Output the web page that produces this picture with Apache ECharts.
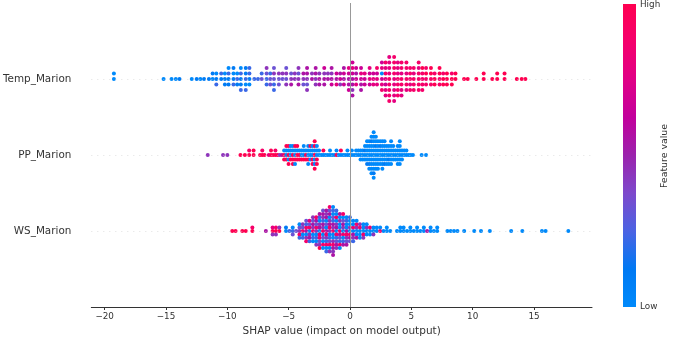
<!DOCTYPE html>
<html><head><meta charset="utf-8">
<script src="https://cdn.jsdelivr.net/npm/echarts@6/dist/echarts.min.js"></script>
<style>html,body{margin:0;padding:0;background:#fff}#c{width:680px;height:345px}</style>
</head><body><div id="c"></div>
<script>
// features, bottom to top (y positions 0,1,2)
const features = ['WS_Marion', 'PP_Marion', 'Temp_Marion'];
const xTicks = [-20, -15, -10, -5, 0, 5, 10, 15];
const xLabel = 'SHAP value (impact on model output)';
const colorbarLabels = ['High', 'Low'];
const colorbarTitle = 'Feature value';
// shap "red_blue" colormap, low -> high
const featColors = ['#008afb', '#0079f3', '#4b63e3', '#7d49cc', '#9b23ad', '#c2009c', '#e00086', '#f5006c', '#ff0051'];

// Each entry: [SHAP value, feature values of the points sharing that value,
// one digit per point, 0 = low ... 9 = high]
const tempCols = [
  [-19.25,'00'],[-15.2,'0'],[-14.55,'0'],[-14.2,'0'],[-13.9,'1'],[-12.9,'0'],[-12.5,'1'],[-12.2,'0'],[-11.9,'1'],
  [-11.5,'1'],[-11.2,'01'],[-10.9,'102'],[-10.5,'12'],[-10.2,'101'],[-9.9,'1210'],[-9.5,'1021'],[-9.2,'201'],
  [-8.9,'12102'],[-8.5,'21012'],[-8.2,'1202'],[-7.8,'2'],[-7.5,'2'],[-7.2,'32'],[-6.8,'2324'],[-6.5,'323'],
  [-6.2,'34232'],[-5.8,'343'],[-5.5,'34'],[-5.2,'3443'],[-4.8,'435'],[-4.5,'44'],[-4.2,'4354'],[-3.8,'453'],
  [-3.5,'45354'],[-3.1,'54'],[-2.8,'4545'],[-2.5,'545'],[-2.1,'5456'],[-1.8,'54'],[-1.5,'5465'],[-1.1,'567'],
  [-0.8,'654'],[-0.5,'5665'],[-0.1,'56576'],[0.2,'5657465'],[0.5,'6576'],[0.9,'67565'],[1.2,'676'],[1.6,'7667'],
  [1.9,'767'],[2.2,'7678'],[2.6,'607786'],[2.9,'7867787'],[3.2,'878787878'],[3.6,'787878787'],[3.9,'8787878'],
  [4.2,'8788787'],[4.6,'878878'],[4.9,'88788'],[5.2,'87888'],[5.6,'888788'],[5.9,'88898'],[6.2,'8988'],
  [6.6,'8989'],[6.9,'989'],[7.3,'8989'],[7.6,'989'],[7.9,'999'],[8.3,'989'],[8.6,'99'],[9.3,'9'],[9.6,'9'],
  [10.3,'9'],[10.9,'99'],[11.6,'9'],[12.0,'99'],[12.6,'99'],[13.6,'9'],[14.0,'9'],[14.3,'9']
];
const ppCols = [
  [-11.6,'4'],[-10.35,'4'],[-10.0,'4'],[-8.93,'9'],[-8.57,'9'],[-8.22,'98'],[-7.86,'99'],[-7.33,'9'],[-7.15,'98'],
  [-6.97,'9'],[-6.62,'7'],[-6.44,'99'],[-6.26,'9'],[-6.08,'98'],[-5.9,'9'],[-5.73,'4'],[-5.55,'5'],
  [-5.37,'909'],[-5.19,'0099'],[-5.01,'90099'],[-4.84,'0090'],[-4.66,'90909'],[-4.48,'00990'],[-4.3,'9099'],
  [-4.12,'909'],[-3.95,'009'],[-3.77,'0090'],[-3.59,'909'],[-3.41,'00900'],[-3.23,'0009'],[-3.06,'00909'],
  [-2.88,'9009099'],[-2.7,'00909'],
  [-2.52,'00'],[-2.34,'0'],[-2.17,'09'],[-1.99,'0'],[-1.81,'0'],[-1.63,'00'],[-1.45,'0'],[-1.28,'0'],[-1.1,'90'],
  [-0.92,'0'],[-0.74,'09'],[-0.56,'0'],[-0.39,'0'],[-0.21,'00'],[-0.03,'0'],[0.15,'00'],[0.33,'0'],[0.5,'00'],
  [0.68,'00'],[0.86,'000'],
  [1.04,'000'],[1.22,'0100'],[1.39,'000010'],[1.57,'0000100'],[1.75,'000001000'],[1.93,'00000000100'],
  [2.11,'00010000'],[2.28,'0000000'],[2.46,'000100'],[2.64,'0000000'],[2.82,'000010'],[3.0,'00000'],
  [3.17,'00100'],[3.35,'000000'],[3.53,'0000'],[3.71,'000'],[3.89,'00000'],[4.06,'000000'],[4.24,'000'],
  [4.42,'00'],[4.6,'00'],[4.78,'0'],[4.95,'0'],[5.13,'0'],[5.84,'0'],[6.2,'0']
];
const wsCols = [
  [-9.6,'9'],[-9.33,'9'],[-8.78,'9'],[-8.5,'9'],[-7.96,'98'],[-6.86,'5'],[-6.31,'974'],[-6.04,'984'],[-5.76,'94'],
  [-5.22,'01'],[-4.94,'2'],[-4.67,'203'],[-4.39,'3'],
  [-4.12,'43802'],[-3.85,'83042'],[-3.57,'5802438'],[-3.3,'0843572'],[-3.02,'84052304'],[-2.75,'480325084'],
  [-2.48,'05848032459'],[-2.2,'840532048503'],[-1.93,'5083402584052'],[-1.66,'48052430850348'],
  [-1.38,'840502438052405'],[-1.11,'058420385042'],[-0.83,'80503420850'],[-0.56,'0485032058'],
  [-0.28,'508042305'],[-0.01,'04805032'],[0.26,'0850402'],[0.54,'040850'],[0.81,'08040'],[1.09,'00804'],
  [1.36,'0400'],[1.63,'080'],[1.91,'004'],[2.18,'00'],[2.46,'80'],[2.73,'0'],[3.0,'00'],
  [3.28,'0'],[3.83,'0'],[4.1,'00'],[4.37,'00'],[4.65,'0'],[4.92,'00'],[5.2,'0'],[5.47,'00'],[5.74,'0'],
  [6.02,'00'],[6.29,'5'],[6.57,'00'],[6.84,'0'],[7.11,'00'],[7.94,'0'],[8.21,'0'],[8.48,'0'],[8.76,'0'],
  [9.31,'0'],[10.13,'0'],[10.68,'0'],[11.4,'0'],[13.14,'0'],[14.05,'0'],[15.65,'0'],[15.95,'0'],[17.8,'0']
];

// shap-style beeswarm layout (100 bins, alternate above / below)
function beeswarm(cols, pos) {
  const shap = [], feat = [];
  cols.forEach(([v, s]) => { for (const ch of s) { shap.push(v); feat.push(+ch / 9); } });
  const n = shap.length;
  const mn = Math.min(...shap), mx = Math.max(...shap);
  const quant = shap.map(v => Math.round(100 * (v - mn) / (mx - mn + 1e-8)));
  const inds = shap.map((_, i) => i).sort((a, b) => (quant[a] - quant[b]) || (a - b));
  const ys = new Array(n).fill(0);
  let layer = 0, last = -1;
  for (const i of inds) {
    if (quant[i] !== last) layer = 0;
    ys[i] = Math.ceil(layer / 2) * ((layer % 2) * 2 - 1);
    layer++; last = quant[i];
  }
  const scale = 0.9 * (0.4 / Math.max(...ys.map(y => y + 1)));
  return shap.map((v, i) => [v, pos + ys[i] * scale, feat[i]]);
}

const rows = [wsCols, ppCols, tempCols];
const FONT = 'DejaVu Sans';
const chart = echarts.init(document.getElementById('c'), null, { renderer: 'canvas' });
const pointSeries = rows.map((cols, i) => ({
  type: 'scatter', name: features[i], data: beeswarm(cols, i),
  symbolSize: 4, itemStyle: { opacity: 1 }, z: 3, silent: true
}));
const stops = featColors.map((c, i) => ({ offset: i / (featColors.length - 1), color: c }));

chart.setOption({
  animation: false,
  backgroundColor: '#fff',
  grid: { left: 91, right: 88, top: 3, bottom: 38, containLabel: false },
  xAxis: {
    type: 'value', min: -21.09, max: 19.73,
    axisLine: { show: true, onZero: false, lineStyle: { color: '#333333', width: 1 } },
    axisTick: { show: true, customValues: xTicks, length: 3, lineStyle: { color: '#333333' } },
    axisLabel: { customValues: xTicks, color: '#333333', fontFamily: FONT, fontSize: 8.8, margin: 5,
      formatter: v => String(v).replace('-', '\u2212') },
    splitLine: { show: false },
    name: xLabel, nameLocation: 'middle', nameGap: 15,
    nameTextStyle: { color: '#333333', fontFamily: FONT, fontSize: 10.5 }
  },
  yAxis: {
    type: 'value', min: -1, max: 3, interval: 1,
    axisLine: { show: false }, axisTick: { show: false }, splitLine: { show: false },
    axisLabel: { margin: 20, color: '#333333', fontFamily: FONT, fontSize: 10.4,
      formatter: v => (features[v] !== undefined ? features[v] : '') }
  },
  visualMap: {
    type: 'continuous', show: false, min: 0, max: 1, dimension: 2,
    seriesIndex: [1, 2, 3], inRange: { color: featColors }
  },
  series: [
    {
      type: 'scatter', data: [], z: 1, silent: true,
      markLine: {
        silent: true, symbol: ['none', 'none'], label: { show: false },
        data: [
          { xAxis: 0, lineStyle: { color: '#999999', width: 1, type: 'solid' } },
          ...features.map((_, i) => ({ yAxis: i, lineStyle: { color: '#cccccc', width: 0.6, type: [1, 5] } }))
        ]
      }
    },
    ...pointSeries
  ],
  graphic: [
    { type: 'rect', shape: { x: 623, y: 4, width: 13, height: 303 }, silent: true,
      style: { fill: { type: 'linear', x: 0, y: 1, x2: 0, y2: 0, colorStops: stops } } },
    { type: 'text', x: 640, y: 5, silent: true,
      style: { text: colorbarLabels[0], fill: '#333333', fontFamily: FONT, fontSize: 8.8, align: 'left', verticalAlign: 'middle' } },
    { type: 'text', x: 640, y: 307, silent: true,
      style: { text: colorbarLabels[1], fill: '#333333', fontFamily: FONT, fontSize: 8.8, align: 'left', verticalAlign: 'middle' } },
    { type: 'text', x: 665, y: 156, rotation: Math.PI / 2, silent: true,
      style: { text: colorbarTitle, fill: '#333333', fontFamily: FONT, fontSize: 9.4, align: 'center', verticalAlign: 'middle' } }
  ]
});
</script>
</body></html>
